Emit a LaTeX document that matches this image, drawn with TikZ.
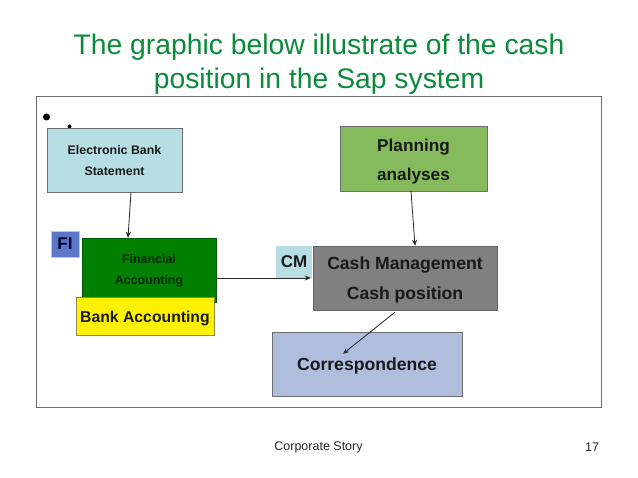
\documentclass[tikz,border=0pt]{standalone}
\usepackage{fontspec}
\setmainfont{Liberation Sans}
\usetikzlibrary{arrows.meta}
\definecolor{titlegreen}{HTML}{0B8A3C}
\definecolor{framegray}{HTML}{6E6E6E}
\definecolor{palecyan}{HTML}{B7DEE3}
\definecolor{fingreen}{HTML}{007F00}
\definecolor{plangreen}{HTML}{85BB5C}
\definecolor{cashgray}{HTML}{808080}
\definecolor{corrblue}{HTML}{B0BEDE}
\definecolor{fiblue}{HTML}{5B78C8}
\newcommand{\drop}[1]{\rule{0pt}{#1pt}}
\begin{document}
\begin{tikzpicture}[x=1pt, y=-1pt,
	box/.style={draw=#1, rectangle, inner sep=0pt, align=center, text=black!90},
	box/.default=framegray,
	boxsize/.style 2 args={minimum width=#1pt, minimum height=#2pt},
	small/.style={font=\fontsize{12.4}{21}\selectfont\bfseries},
	link/.style={draw=black!85, line width=0.8pt, -{Stealth[length=6pt,width=5pt]}}]
	\useasboundingbox (0,0) rectangle (638,478);
	\fill[white] (0,0) rectangle (638,478);
	\node[align=center, text=titlegreen, font=\fontsize{28.3}{34.5}\selectfont] (title) at (319,64) {The graphic below illustrate of the cash\\position in the Sap system};
	\node[draw=framegray, minimum width=565pt, minimum height=311pt, inner sep=0pt] (frame) at (318.5,251.5) {};
	\node[circle, fill=black, inner sep=0pt, minimum size=7pt] (mark) at (46.5,117) {};
	\node[circle, fill=black, inner sep=0pt, minimum size=4pt] (dot) at (69.5,126.5) {};
	\node[box, boxsize={135}{64}, fill=palecyan, small] (elec) at (114.5,160) {\drop{10.5}Electronic Bank\\Statement};
	\node[box, boxsize={147}{65}, fill=plangreen, font=\fontsize{17.2}{29}\selectfont\bfseries] (plan) at (413.5,158.5) {\drop{19}Planning\\analyses};
	\node[box=yellow!70!gray, boxsize={28}{26}, fill=fiblue, font=\fontsize{17}{20}\selectfont\bfseries, text=black!80!blue] (fi) at (65,244) {FI};
	\node[box=fingreen!70!black, boxsize={134}{64}, fill=fingreen, small, text=black!85!green] (fin) at (149,270) {\drop{10.5}Financial\\Accounting};
	\node[box=yellow!50!black, boxsize={138}{38}, fill=yellow, font=\fontsize{15.75}{20}\selectfont\bfseries] (bank) at (145,316) {\drop{16.5}Bank Accounting};
	\node[boxsize={36}{32}, inner sep=0pt, fill=palecyan, font=\fontsize{17}{20}\selectfont\bfseries, text=black!90] (cm) at (294,262) {CM};
	\node[box=black!60, boxsize={184}{64}, fill=cashgray, font=\fontsize{17.6}{30}\selectfont\bfseries] (cash) at (405,278) {\drop{17.5}Cash Management\\Cash position};
	\node[box, boxsize={190}{64}, fill=corrblue, font=\fontsize{17.6}{20}\selectfont\bfseries] (corr) at (367,364) {\drop{16.6}Correspondence};
	\draw[link] ([xshift=16.5pt]elec.south) -- ([xshift=-21pt]fin.north);
	\draw[link] ([xshift=-2.5pt]plan.south) -- ([xshift=10pt]cash.north);
	\draw[link] ([yshift=-8pt,xshift=1pt]fin.east) -- ([xshift=-2pt]cash.west);
	\draw[link] ([xshift=-10pt,yshift=-2pt]cash.south) -- ([xshift=-24pt,yshift=-22pt]corr.north);
	\node[font=\fontsize{12.5}{15}\selectfont, text=black!85] (story) at (318.5,447.5) {Corporate Story};
	\node[font=\fontsize{12.5}{15}\selectfont, text=black!85] (page) at (592,447.5) {17};
\end{tikzpicture}
\end{document}
